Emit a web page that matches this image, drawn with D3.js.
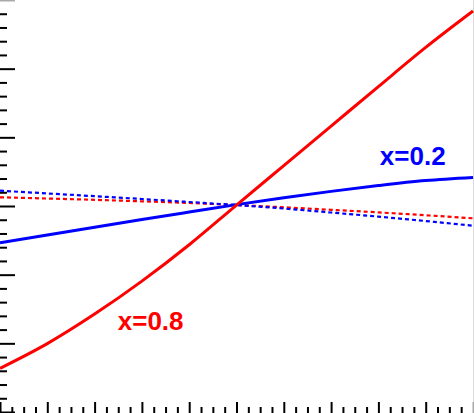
<!DOCTYPE html>
<html>
<head>
<meta charset="utf-8">
<script src="https://cdn.jsdelivr.net/npm/d3@7"></script>
<style>
  html, body { margin: 0; padding: 0; background: #fff; overflow: hidden; }
  svg { display: block; }
</style>
</head>
<body>
<svg id="chart" width="474" height="413"></svg>
<script>
// ---- data ----
const xValues      = [0, 1, 2, 3, 4, 5, 6, 7, 8, 9, 10];
const redSolid     = [0.636, 0.996, 1.426, 1.906, 2.436, 3.014, 3.589, 4.164, 4.739, 5.309, 5.839];
const blueSolid    = [2.464, 2.579, 2.692, 2.803, 2.912, 3.020, 3.120, 3.213, 3.298, 3.370, 3.415];
const redDashed    = [3.127, 3.109, 3.090, 3.068, 3.044, 3.014, 2.981, 2.945, 2.907, 2.865, 2.821];
const blueDashed   = [3.223, 3.183, 3.143, 3.102, 3.058, 3.014, 2.963, 2.905, 2.845, 2.781, 2.713];
const xMajorTicks  = d3.range(0, 10.001, 1);
const xMinorTicks  = d3.range(0, 10.001, 0.25).filter(v => Math.abs(v - Math.round(v)) > 1e-6);
const yMajorTicks  = d3.range(0, 6.001, 1);
const yMinorTicks  = d3.range(0, 6.001, 0.2).filter(v => Math.abs(v - Math.round(v)) > 1e-6);
const labels       = [
  { text: "x=0.2", color: "#0000ff", x: 8.03, y: 3.597 },
  { text: "x=0.8", color: "#ff0000", x: 2.49, y: 1.194 }
];

// ---- layout ----
const W = 474, H = 413;
const svg = d3.select("#chart");
const x = d3.scaleLinear().domain([0, 10]).range([0, 473]);
const y = d3.scaleLinear().domain([0, 6]).range([412, 0]);

// right frame edge (light)
svg.append("line")
  .attr("x1", 473.5).attr("x2", 473.5).attr("y1", 0).attr("y2", H)
  .attr("stroke", "#d8d8d8").attr("stroke-width", 1);

function styleAxis(g) {
  g.select(".domain").remove();
  g.selectAll(".tick text").remove();
  g.selectAll(".tick line").attr("stroke", "#000").attr("stroke-width", 2);
}

// left axis: ticks pointing inward
const yMajorG = svg.append("g")
  .call(d3.axisRight(y).tickValues(yMajorTicks).tickSize(15).tickFormat(""))
  .call(styleAxis);
svg.append("g")
  .call(d3.axisRight(y).tickValues(yMinorTicks).tickSize(7).tickFormat(""))
  .call(styleAxis);

// bottom axis: ticks pointing up
const xMajorG = svg.append("g").attr("transform", "translate(0,413)")
  .call(d3.axisTop(x).tickValues(xMajorTicks).tickSize(11).tickFormat(""))
  .call(styleAxis);
svg.append("g").attr("transform", "translate(0,413)")
  .call(d3.axisTop(x).tickValues(xMinorTicks).tickSize(6).tickFormat(""))
  .call(styleAxis);

// edge ticks appear lighter in the reference
yMajorG.selectAll(".tick").filter(d => d === 6).select("line").attr("stroke", "#aaa");
xMajorG.selectAll(".tick").filter(d => d === 10).select("line").attr("stroke", "#aaa");

// ---- curves ----
const line = d3.line()
  .x((d, i) => x(xValues[i]))
  .y(d => y(d))
  .curve(d3.curveMonotoneX);

const series = [
  { data: redDashed,  color: "#ff0000", width: 2.2, dash: "4,3" },
  { data: blueDashed, color: "#0000ff", width: 2.2, dash: "4,3" },
  { data: blueSolid,  color: "#0000ff", width: 3,   dash: null },
  { data: redSolid,   color: "#ff0000", width: 3,   dash: null }
];

svg.selectAll("path.series").data(series).enter().append("path")
  .attr("class", "series")
  .attr("d", s => line(s.data))
  .attr("fill", "none")
  .attr("stroke", s => s.color)
  .attr("stroke-width", s => s.width)
  .attr("stroke-dasharray", s => s.dash);

// ---- labels ----
svg.selectAll("text.lbl").data(labels).enter().append("text")
  .attr("class", "lbl")
  .attr("x", d => x(d.x))
  .attr("y", d => y(d.y))
  .attr("fill", d => d.color)
  .attr("font-family", "'Liberation Sans', Arial, Helvetica, sans-serif")
  .attr("font-weight", "bold")
  .attr("font-size", 26)
  .text(d => d.text);
</script>
</body>
</html>
